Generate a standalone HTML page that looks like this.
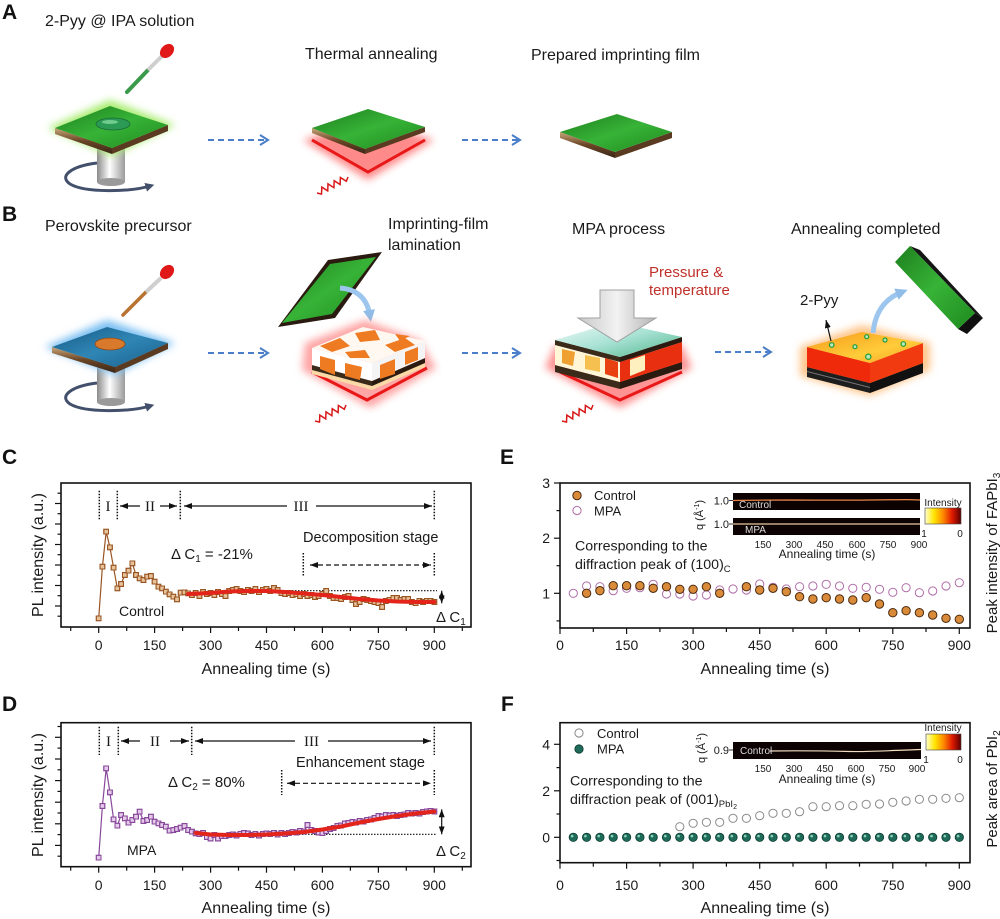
<!DOCTYPE html>
<html><head><meta charset="utf-8">
<style>
html,body{margin:0;padding:0;background:#fff;}
svg{display:block;}
text{font-family:"Liberation Sans",Arial,sans-serif;fill:#1a1a1a;}
.pl{font-weight:bold;font-size:21px;fill:#111;}
.h{font-size:16px;}
.tk{font-size:14px;}
.ti{font-size:16px;}
.rm{font-family:"Liberation Serif",serif;font-size:15px;}
.sm{font-size:10px;}
</style></head><body>
<svg width="1000" height="919" viewBox="0 0 1000 919" xmlns="http://www.w3.org/2000/svg">
<defs>
<filter id="blur" x="-30%" y="-30%" width="160%" height="160%"><feGaussianBlur stdDeviation="4"/></filter>
<filter id="blur2" x="-30%" y="-30%" width="160%" height="160%"><feGaussianBlur stdDeviation="2.5"/></filter>
<linearGradient id="gTop" x1="0" y1="0" x2="1" y2="1"><stop offset="0" stop-color="#1d7f1d"/><stop offset="0.5" stop-color="#37b337"/><stop offset="1" stop-color="#1e8a1e"/></linearGradient>
<linearGradient id="edge" x1="0" y1="0" x2="0" y2="1"><stop offset="0" stop-color="#c9a77a"/><stop offset="0.5" stop-color="#6a4526"/><stop offset="1" stop-color="#3a2616"/></linearGradient>
<linearGradient id="cyl" x1="0" y1="0" x2="1" y2="0"><stop offset="0" stop-color="#8a8a8a"/><stop offset="0.45" stop-color="#ffffff"/><stop offset="1" stop-color="#9a9a9a"/></linearGradient>
<linearGradient id="bTop" x1="0" y1="0" x2="1" y2="1"><stop offset="0" stop-color="#175a86"/><stop offset="0.5" stop-color="#2f86b5"/><stop offset="1" stop-color="#1a5f8c"/></linearGradient>
<linearGradient id="mTop" x1="0" y1="0" x2="1" y2="1"><stop offset="0" stop-color="#f2fbfb"/><stop offset="0.5" stop-color="#a8e2d4"/><stop offset="1" stop-color="#4fb48a"/></linearGradient>
<linearGradient id="oTop" x1="0" y1="0" x2="1" y2="1"><stop offset="0" stop-color="#f59a1a"/><stop offset="0.6" stop-color="#ffcc3a"/><stop offset="1" stop-color="#f4a020"/></linearGradient>
<linearGradient id="arr" x1="0" y1="0" x2="1" y2="0"><stop offset="0" stop-color="#c8c8c8"/><stop offset="0.5" stop-color="#f2f2f2"/><stop offset="1" stop-color="#b4b4b4"/></linearGradient>
<linearGradient id="cbar" x1="0" y1="0" x2="1" y2="0"><stop offset="0" stop-color="#ffffd0"/><stop offset="0.25" stop-color="#ffe600"/><stop offset="0.5" stop-color="#ff8a00"/><stop offset="0.75" stop-color="#e01a00"/><stop offset="1" stop-color="#5a0000"/></linearGradient>
<marker id="ah" viewBox="0 0 8 6" refX="8" refY="3" markerWidth="8" markerHeight="6" markerUnits="userSpaceOnUse" orient="auto-start-reverse"><path d="M0,0 L8,3 L0,6 z" fill="#111"/></marker>
<marker id="ahb" viewBox="0 0 10 10" refX="5" refY="5" markerWidth="12" markerHeight="12" markerUnits="userSpaceOnUse" orient="auto"><path d="M0,0 L10,5 L0,10 z" fill="#8fbde8"/></marker>
<marker id="ahs" viewBox="0 0 10 10" refX="5" refY="5" markerWidth="9" markerHeight="9" markerUnits="userSpaceOnUse" orient="auto"><path d="M0,0 L10,5 L0,10 z" fill="#43506c"/></marker>
<marker id="sqC" viewBox="0 0 6 6" refX="3" refY="3" markerWidth="6" markerHeight="6" markerUnits="userSpaceOnUse"><rect x="0.6" y="0.6" width="4.8" height="4.8" fill="#e7c39c" stroke="#9a5522" stroke-width="1.2"/></marker>
<marker id="sqD" viewBox="0 0 6 6" refX="3" refY="3" markerWidth="6" markerHeight="6" markerUnits="userSpaceOnUse"><rect x="0.6" y="0.6" width="4.8" height="4.8" fill="#e4cbe9" stroke="#87479a" stroke-width="1.2"/></marker>
<marker id="cE" viewBox="0 0 10 10" refX="5" refY="5" markerWidth="10" markerHeight="10" markerUnits="userSpaceOnUse"><circle cx="5" cy="5" r="4.2" fill="#d98b3a" stroke="#4a2a10" stroke-width="1"/></marker>
<marker id="mE" viewBox="0 0 10 10" refX="5" refY="5" markerWidth="10" markerHeight="10" markerUnits="userSpaceOnUse"><circle cx="5" cy="5" r="4.1" fill="#fff" stroke="#b06ea8" stroke-width="1"/></marker>
<marker id="cF" viewBox="0 0 10 10" refX="5" refY="5" markerWidth="10" markerHeight="10" markerUnits="userSpaceOnUse"><circle cx="5" cy="5" r="4.1" fill="#fff" stroke="#8a8a8a" stroke-width="1"/></marker>
<marker id="mF" viewBox="0 0 10 10" refX="5" refY="5" markerWidth="10" markerHeight="10" markerUnits="userSpaceOnUse"><circle cx="5" cy="5" r="4.2" fill="#1d6b58" stroke="#0d3a30" stroke-width="0.8"/><circle cx="3.8" cy="3.8" r="1.3" fill="#8fd0bd"/></marker>
</defs>

<!-- ============ PANEL A ============ -->
<text class="pl" x="2" y="19">A</text>
<text class="h" x="45" y="26">2-Pyy @ IPA solution</text>
<text class="h" x="305" y="59">Thermal annealing</text>
<text class="h" x="531" y="60">Prepared imprinting film</text>

<!-- A1 spin coater -->
<path d="M97,163 C72,166 58,176 70,184 C85,193 130,192 150,186" fill="none" stroke="#43506c" stroke-width="3" marker-end="url(#ahs)"/>
<rect x="97" y="140" width="28" height="42" fill="url(#cyl)"/>
<ellipse cx="111" cy="182" rx="14" ry="4" fill="#9a9a9a"/>
<polygon points="48,128 110,100 175,125 112,156" fill="#a8ec70" filter="url(#blur)"/>
<polygon points="55,128 112,148 112,154 55,134" fill="url(#edge)"/>
<polygon points="112,148 168,125 168,131 112,154" fill="#5a3a20"/>
<polygon points="55,128 110,106 168,125 112,148" fill="url(#gTop)"/>
<ellipse cx="113" cy="124" rx="17" ry="6" fill="#2a9a55" stroke="#1a6a35" stroke-width="0.8"/>
<ellipse cx="110" cy="122" rx="8" ry="2" fill="#8fe0a8" opacity="0.7"/>
<line x1="127" y1="92" x2="148" y2="70" stroke="#3a9a4a" stroke-width="4" stroke-linecap="round"/>
<line x1="148" y1="70" x2="162" y2="56" stroke="#cfcfcf" stroke-width="4"/>
<ellipse cx="167" cy="51" rx="6" ry="8" transform="rotate(45 167 51)" fill="#e01818"/>

<!-- arrow A1 -->
<line x1="208" y1="140" x2="268" y2="140" stroke="#bcdcf6" stroke-width="9" filter="url(#blur2)"/>
<line x1="208" y1="140" x2="266" y2="140" stroke="#4a7ec8" stroke-width="2" stroke-dasharray="6,4"/>
<polyline points="260,135 268,140 260,145" fill="none" stroke="#4a7ec8" stroke-width="2"/>

<!-- A2 thermal annealing -->
<polygon points="303,140 368,180 434,140 368,120" fill="#ff5a5a" opacity="0.7" filter="url(#blur)"/>
<polyline points="312,140 368,172 425,140" fill="none" stroke="#e81818" stroke-width="3"/>
<polygon points="312,128 365,149 365,154 312,133" fill="url(#edge)"/>
<polygon points="365,149 425,127 425,132 365,154" fill="#5a3a20"/>
<polygon points="312,128 368,109 425,127 365,149" fill="url(#gTop)"/>
<polyline transform="translate(317,193)" points="0,0 4.5,1.1 4.8,-5.9 10.7,-2.1 11,-9.1 16.9,-5.3 17.2,-12.3 23.1,-8.5 23.4,-15.5 29.3,-11.7 31,-16" fill="none" stroke="#d81818" stroke-width="1.5"/>

<!-- arrow A2 -->
<line x1="462" y1="140" x2="520" y2="140" stroke="#bcdcf6" stroke-width="9" filter="url(#blur2)"/>
<line x1="462" y1="140" x2="518" y2="140" stroke="#4a7ec8" stroke-width="2" stroke-dasharray="6,4"/>
<polyline points="512,135 520,140 512,145" fill="none" stroke="#4a7ec8" stroke-width="2"/>

<!-- A3 prepared film -->
<polygon points="560,132 615,152 615,158 560,138" fill="url(#edge)"/>
<polygon points="615,152 672,132 672,138 615,158" fill="#5a3a20"/>
<polygon points="560,132 617,114 672,132 615,152" fill="url(#gTop)"/>

<!-- ============ PANEL B ============ -->
<text class="pl" x="2" y="221">B</text>
<text class="h" x="45" y="231">Perovskite precursor</text>
<text class="h" x="388" y="229">Imprinting-film</text>
<text class="h" x="388" y="250">lamination</text>
<text class="h" x="572" y="234">MPA process</text>
<text class="h" x="791" y="234">Annealing completed</text>
<text x="649" y="277" font-size="15" style="fill:#c0302a">Pressure &amp;</text>
<text x="649" y="295" font-size="15" style="fill:#c0302a">temperature</text>
<text x="800" y="305" font-size="15">2-Pyy</text>

<!-- B1 -->
<path d="M97,383 C72,386 58,396 70,404 C85,413 130,412 150,406" fill="none" stroke="#43506c" stroke-width="3" marker-end="url(#ahs)"/>
<rect x="97" y="362" width="28" height="40" fill="url(#cyl)"/>
<ellipse cx="111" cy="402" rx="14" ry="4" fill="#9a9a9a"/>
<polygon points="45,347 107,320 175,343 115,375" fill="#7cc0f2" filter="url(#blur)"/>
<polygon points="52,347 115,367 115,373 52,353" fill="url(#edge)"/>
<polygon points="115,367 168,343 168,349 115,373" fill="#5a3a20"/>
<polygon points="52,347 107,327 168,343 115,367" fill="url(#bTop)"/>
<ellipse cx="110" cy="344" rx="15" ry="6" fill="#d9792c" stroke="#8a4a1a" stroke-width="0.8"/>
<line x1="123" y1="315" x2="146" y2="292" stroke="#b87333" stroke-width="3.5" stroke-linecap="round"/>
<line x1="146" y1="292" x2="161" y2="278" stroke="#cfcfcf" stroke-width="4"/>
<ellipse cx="167" cy="272" rx="6" ry="8" transform="rotate(45 167 272)" fill="#e01818"/>

<!-- arrow B1 -->
<line x1="208" y1="353" x2="268" y2="353" stroke="#bcdcf6" stroke-width="9" filter="url(#blur2)"/>
<line x1="208" y1="353" x2="266" y2="353" stroke="#4a7ec8" stroke-width="2" stroke-dasharray="6,4"/>
<polyline points="260,348 268,353 260,358" fill="none" stroke="#4a7ec8" stroke-width="2"/>

<!-- B2 lamination -->
<polygon points="278,327 328,260 382,252 335,318" fill="#2a1a10"/>
<polygon points="282,323 330,264 376,257 332,314" fill="url(#gTop)"/>
<path d="M340,288 Q366,290 370,316" fill="none" stroke="#9cc6ee" stroke-width="5" marker-end="url(#ahb)"/>
<polygon points="302,370 370,408 436,368 420,340 365,320 305,343" fill="#ff6a6a" opacity="0.6" filter="url(#blur)"/>
<polyline points="312,372 367,400 427,368" fill="none" stroke="#e81818" stroke-width="3"/>
<polygon points="312,369 372,385 372,390 312,374" fill="#fbd9a6"/>
<polygon points="372,385 425,362 425,367 372,390" fill="#fbd9a6"/>
<polygon points="312,365 372,381 372,386 312,370" fill="#3a2a1a"/>
<polygon points="372,381 425,358 425,363 372,386" fill="#2a1a10"/>
<polygon points="312,348 372,363 372,381 312,365" fill="#fff"/>
<polygon points="372,363 425,341 425,358 372,381" fill="#f4f4f4"/>
<polygon points="312,348 363,327 425,341 372,363" fill="#fff8f0"/>
<polygon points="320,346 340,338 350,346 332,352" fill="#ee7a22"/>
<polygon points="355,333 375,330 380,340 360,342" fill="#ee7a22"/>
<polygon points="385,345 405,338 415,345 395,352" fill="#ee7a22"/>
<polygon points="345,352 365,350 370,358 350,358" fill="#ee7a22"/>
<polygon points="395,334 410,336 400,341" fill="#ee7a22"/>
<polygon points="320,356 335,360 335,375 320,369" fill="#ee7a22"/>
<polygon points="345,363 362,367 360,380 345,376" fill="#ee7a22"/>
<polygon points="380,365 395,359 395,374 380,379" fill="#ee7a22"/>
<polygon points="405,352 418,347 418,360 405,365" fill="#ee7a22"/>
<polyline transform="translate(315,421)" points="0,0 4.5,1.1 4.8,-5.9 10.7,-2.1 11,-9.1 16.9,-5.3 17.2,-12.3 23.1,-8.5 23.4,-15.5 29.3,-11.7 31,-16" fill="none" stroke="#d81818" stroke-width="1.5"/>

<!-- arrow B2 -->
<line x1="462" y1="353" x2="520" y2="353" stroke="#bcdcf6" stroke-width="9" filter="url(#blur2)"/>
<line x1="462" y1="353" x2="518" y2="353" stroke="#4a7ec8" stroke-width="2" stroke-dasharray="6,4"/>
<polyline points="512,348 520,353 512,358" fill="none" stroke="#4a7ec8" stroke-width="2"/>

<!-- B3 MPA -->
<polygon points="545,368 620,408 692,368 682,345 620,360 555,345" fill="#ff5a5a" opacity="0.65" filter="url(#blur)"/>
<polyline points="560,372 620,400 682,372" fill="none" stroke="#e81818" stroke-width="3"/>
<polygon points="555,365 620,382 620,389 555,372" fill="#3a2a1a"/>
<polygon points="620,382 682,362 682,369 620,389" fill="#2a1a10"/>
<polygon points="555,345 620,362 620,382 555,365" fill="#fff6d8"/>
<polygon points="562,349 575,352 573,366 562,363" fill="#f0a030"/>
<polygon points="585,355 600,358 600,372 585,369" fill="#f5c050"/>
<polygon points="605,358 618,362 618,378 605,374" fill="#e84010"/>
<polygon points="620,362 682,342 682,362 620,382" fill="#e83010"/>
<polygon points="630,360 645,355 645,370 630,376" fill="#fff0c0"/>
<polygon points="555,340 620,357 620,362 555,345" fill="#3a2a1a"/>
<polygon points="620,357 682,337 682,342 620,362" fill="#2a1a10"/>
<polygon points="555,340 615,322 682,337 620,357" fill="url(#mTop)"/>
<polygon points="600,290 634,290 634,318 656,318 617,342 578,318 600,318" fill="url(#arr)" stroke="#a0a0a0" stroke-width="1"/>
<polyline transform="translate(562,421)" points="0,0 4.5,1.1 4.8,-5.9 10.7,-2.1 11,-9.1 16.9,-5.3 17.2,-12.3 23.1,-8.5 23.4,-15.5 29.3,-11.7 31,-16" fill="none" stroke="#d81818" stroke-width="1.5"/>

<!-- arrow B3 -->
<line x1="715" y1="352" x2="771" y2="352" stroke="#bcdcf6" stroke-width="9" filter="url(#blur2)"/>
<line x1="715" y1="352" x2="769" y2="352" stroke="#4a7ec8" stroke-width="2" stroke-dasharray="6,4"/>
<polyline points="763,347 771,352 763,357" fill="none" stroke="#4a7ec8" stroke-width="2"/>

<!-- B4 completed -->
<polygon points="800,347 862,325 930,343 930,370 870,396 800,376" fill="#ffa040" opacity="0.6" filter="url(#blur)"/>
<polygon points="807,367 870,383 870,393 807,377" fill="#1e1e1e"/>
<polygon points="870,383 923,363 923,373 870,393" fill="#111"/>
<polygon points="807,371 870,387 870,388 807,372" fill="#777"/>
<polygon points="807,347 870,363 870,383 807,367" fill="#ee2a0a"/>
<polygon points="870,363 923,343 923,363 870,383" fill="#f23a10"/>
<polygon points="807,347 862,332 923,343 870,363" fill="url(#oTop)"/>
<g fill="#b6eab6" stroke="#1f9a3a" stroke-width="1.2">
<circle cx="831.7" cy="345" r="2.3"/><circle cx="855" cy="346.7" r="2"/><circle cx="866.7" cy="336.7" r="2"/><circle cx="885" cy="340" r="2"/><circle cx="903.3" cy="344" r="2.3"/><circle cx="868.3" cy="356.7" r="2.6"/>
</g>
<line x1="831" y1="341" x2="826" y2="320" stroke="#111" stroke-width="1.2" marker-end="url(#ah)"/>
<path d="M873,333 Q876,302 902,292" fill="none" stroke="#9cc6ee" stroke-width="5" marker-end="url(#ahb)"/>
<polygon points="910,246 920,250 983,318 975,313" fill="#151515"/>
<polygon points="958,329 975,313 983,318 967,334" fill="#101010"/>
<polygon points="895,262 910,246 975,313 958,329" fill="url(#gTop)"/>

<!-- ============ PANEL C ============ -->
<text class="pl" x="2" y="464">C</text>
<g stroke="#111" stroke-width="1.2">
<line x1="55" y1="503.5" x2="61" y2="503.5"/><line x1="55" y1="524" x2="61" y2="524"/><line x1="55" y1="544.5" x2="61" y2="544.5"/><line x1="55" y1="565" x2="61" y2="565"/><line x1="55" y1="585.5" x2="61" y2="585.5"/><line x1="55" y1="606" x2="61" y2="606"/>
<line x1="57.5" y1="493.2" x2="61" y2="493.2"/><line x1="57.5" y1="513.7" x2="61" y2="513.7"/><line x1="57.5" y1="534.2" x2="61" y2="534.2"/><line x1="57.5" y1="554.7" x2="61" y2="554.7"/><line x1="57.5" y1="575.2" x2="61" y2="575.2"/><line x1="57.5" y1="595.7" x2="61" y2="595.7"/><line x1="57.5" y1="616.2" x2="61" y2="616.2"/>
<line x1="98.7" y1="627" x2="98.7" y2="633"/><line x1="154.6" y1="627" x2="154.6" y2="633"/><line x1="210.6" y1="627" x2="210.6" y2="633"/><line x1="266.5" y1="627" x2="266.5" y2="633"/><line x1="322.4" y1="627" x2="322.4" y2="633"/><line x1="378.4" y1="627" x2="378.4" y2="633"/><line x1="434.3" y1="627" x2="434.3" y2="633"/>
<line x1="70.7" y1="627" x2="70.7" y2="631"/><line x1="126.7" y1="627" x2="126.7" y2="631"/><line x1="182.6" y1="627" x2="182.6" y2="631"/><line x1="238.5" y1="627" x2="238.5" y2="631"/><line x1="294.5" y1="627" x2="294.5" y2="631"/><line x1="350.4" y1="627" x2="350.4" y2="631"/><line x1="406.3" y1="627" x2="406.3" y2="631"/><line x1="462.3" y1="627" x2="462.3" y2="631"/>
</g>
<g class="tk" text-anchor="middle">
<text x="98.7" y="650">0</text><text x="154.6" y="650">150</text><text x="210.6" y="650">300</text><text x="266.5" y="650">450</text><text x="322.4" y="650">600</text><text x="378.4" y="650">750</text><text x="434.3" y="650">900</text>
</g>
<text class="ti" x="266" y="674" text-anchor="middle">Annealing time (s)</text>
<text class="ti" transform="translate(43,555) rotate(-90)" text-anchor="middle">PL intensity (a.u.)</text>
<!-- stage markers -->
<g stroke="#111" stroke-width="1.5" stroke-dasharray="1.5,1.5">
<line x1="99.3" y1="490.7" x2="99.3" y2="520"/><line x1="117.3" y1="490.7" x2="117.3" y2="520"/><line x1="180.3" y1="490.7" x2="180.3" y2="520"/><line x1="434.3" y1="490.7" x2="434.3" y2="520"/>
<line x1="303.3" y1="553" x2="303.3" y2="577"/><line x1="434.3" y1="553" x2="434.3" y2="577"/>
<line x1="283" y1="590.7" x2="437" y2="590.7" stroke-width="1.2"/>
</g>
<g stroke="#111" stroke-width="1.2">
<line x1="140" y1="506" x2="120" y2="506" marker-end="url(#ah)"/><line x1="160" y1="506" x2="177" y2="506" marker-end="url(#ah)"/>
<line x1="287" y1="506" x2="184" y2="506" marker-end="url(#ah)"/><line x1="316" y1="506" x2="432" y2="506" marker-end="url(#ah)"/>
<line x1="310" y1="565" x2="431" y2="565" stroke-dasharray="5,3" marker-start="url(#ah)" marker-end="url(#ah)"/>
<line x1="441.7" y1="590.7" x2="441.7" y2="603.3" marker-start="url(#ah)" marker-end="url(#ah)"/>
</g>
<text class="rm" x="108" y="511" text-anchor="middle">I</text>
<text class="rm" x="150" y="511" text-anchor="middle">II</text>
<text class="rm" x="301" y="511" text-anchor="middle">III</text>
<text x="303" y="542" font-size="14.5">Decomposition stage</text>
<text x="171" y="559" font-size="15">Δ C<tspan font-size="10" dy="3">1</tspan><tspan dy="-3"> = -21%</tspan></text>
<text x="119" y="616" font-size="14">Control</text>
<text x="436" y="622" font-size="15">Δ C<tspan font-size="10" dy="3">1</tspan></text>
<!-- data C -->
<polyline points="98.7,618.3 102.4,566.7 106.2,531.7 109.9,547.3 113.6,567.7 117.3,588.3 121.1,584 124.8,575 128.5,570.7 132.3,563.3 136,575 139.7,578.3 143.4,580 147.2,576.7 150.9,576 154.6,581.7 158.4,586.7 162.1,588.3 165.8,591.7 169.6,594.3 173.3,596.7 177,599.3 180.7,592.7 184.5,592.3 188.2,593.3" fill="none" stroke="#9a5522" stroke-width="1.2" marker-start="url(#sqC)" marker-mid="url(#sqC)" marker-end="url(#sqC)"/>
<polyline points="191.9,595 195.7,593 199.4,596 203.1,592 206.8,594 210.6,593 214.3,595 218,592 221.8,594 225.5,596 229.2,591 232.9,590 236.7,589 240.4,591 244.1,592 247.9,590 251.6,591 255.3,589 259,592 262.8,590 266.5,589 270.2,591 274,588 277.7,590 281.4,593 285.2,594 288.9,593 292.6,595 296.3,594 300.1,596 303.8,594 307.5,596 311.3,595 315,597 318.7,596 322.4,594 326.2,591 329.9,596 333.6,598 337.4,598 341.1,599 344.8,597 348.5,596 352.3,600 356,604 359.7,602 363.5,599 367.2,600 370.9,601 374.6,602 378.4,603 382.1,607 385.8,601 389.6,600 393.3,598 397,598 400.7,600 404.5,599 408.2,599 411.9,602 415.7,603 419.4,601 423.1,602 426.8,601 430.6,601 434.3,602" fill="none" stroke="#9a5522" stroke-width="1" marker-start="url(#sqC)" marker-mid="url(#sqC)" marker-end="url(#sqC)"/>
<polyline points="188.2,594 210.6,593 229.2,591.5 247.9,591 266.5,591 285.2,592 303.8,593.5 322.4,595 341.1,597 359.7,599 378.4,600.5 397,601.5 415.7,602 434.3,602" fill="none" stroke="#e3241b" stroke-width="4" stroke-linejoin="round" stroke-linecap="round"/>
<rect x="61" y="483" width="410" height="144" fill="none" stroke="#111" stroke-width="1.6"/>

<!-- ============ PANEL D ============ -->
<text class="pl" x="2" y="711">D</text>
<g stroke="#111" stroke-width="1.2">
<line x1="55" y1="737.3" x2="61" y2="737.3"/><line x1="55" y1="759" x2="61" y2="759"/><line x1="55" y1="780.6" x2="61" y2="780.6"/><line x1="55" y1="802.2" x2="61" y2="802.2"/><line x1="55" y1="823.8" x2="61" y2="823.8"/><line x1="55" y1="845.4" x2="61" y2="845.4"/>
<line x1="57.5" y1="726.5" x2="61" y2="726.5"/><line x1="57.5" y1="748.1" x2="61" y2="748.1"/><line x1="57.5" y1="769.8" x2="61" y2="769.8"/><line x1="57.5" y1="791.4" x2="61" y2="791.4"/><line x1="57.5" y1="813" x2="61" y2="813"/><line x1="57.5" y1="834.6" x2="61" y2="834.6"/><line x1="57.5" y1="856.2" x2="61" y2="856.2"/>
<line x1="98.7" y1="866.7" x2="98.7" y2="872.7"/><line x1="154.6" y1="866.7" x2="154.6" y2="872.7"/><line x1="210.6" y1="866.7" x2="210.6" y2="872.7"/><line x1="266.5" y1="866.7" x2="266.5" y2="872.7"/><line x1="322.4" y1="866.7" x2="322.4" y2="872.7"/><line x1="378.4" y1="866.7" x2="378.4" y2="872.7"/><line x1="434.3" y1="866.7" x2="434.3" y2="872.7"/>
<line x1="70.7" y1="866.7" x2="70.7" y2="870.7"/><line x1="126.7" y1="866.7" x2="126.7" y2="870.7"/><line x1="182.6" y1="866.7" x2="182.6" y2="870.7"/><line x1="238.5" y1="866.7" x2="238.5" y2="870.7"/><line x1="294.5" y1="866.7" x2="294.5" y2="870.7"/><line x1="350.4" y1="866.7" x2="350.4" y2="870.7"/><line x1="406.3" y1="866.7" x2="406.3" y2="870.7"/><line x1="462.3" y1="866.7" x2="462.3" y2="870.7"/>
</g>
<g class="tk" text-anchor="middle">
<text x="98.7" y="890">0</text><text x="154.6" y="890">150</text><text x="210.6" y="890">300</text><text x="266.5" y="890">450</text><text x="322.4" y="890">600</text><text x="378.4" y="890">750</text><text x="434.3" y="890">900</text>
</g>
<text class="ti" x="266" y="913" text-anchor="middle">Annealing time (s)</text>
<text class="ti" transform="translate(43,795) rotate(-90)" text-anchor="middle">PL intensity (a.u.)</text>
<g stroke="#111" stroke-width="1.5" stroke-dasharray="1.5,1.5">
<line x1="99.3" y1="726.7" x2="99.3" y2="755"/><line x1="118.3" y1="726.7" x2="118.3" y2="755"/><line x1="191.7" y1="726.7" x2="191.7" y2="755"/><line x1="434.3" y1="726.7" x2="434.3" y2="755"/>
<line x1="281.7" y1="770" x2="281.7" y2="795"/><line x1="434.3" y1="770" x2="434.3" y2="795"/>
<line x1="293" y1="834.3" x2="437" y2="834.3" stroke-width="1.2"/>
</g>
<g stroke="#111" stroke-width="1.2">
<line x1="140" y1="741" x2="121" y2="741" marker-end="url(#ah)"/><line x1="170" y1="741" x2="189" y2="741" marker-end="url(#ah)"/>
<line x1="295" y1="741" x2="195" y2="741" marker-end="url(#ah)"/><line x1="328" y1="741" x2="431" y2="741" marker-end="url(#ah)"/>
<line x1="287" y1="783.3" x2="431" y2="783.3" stroke-dasharray="5,3" marker-start="url(#ah)" marker-end="url(#ah)"/>
<line x1="441.7" y1="809.3" x2="441.7" y2="834.3" marker-start="url(#ah)" marker-end="url(#ah)"/>
</g>
<text class="rm" x="108.5" y="746" text-anchor="middle">I</text>
<text class="rm" x="155" y="746" text-anchor="middle">II</text>
<text class="rm" x="311.5" y="746" text-anchor="middle">III</text>
<text x="296" y="767" font-size="14.5">Enhancement stage</text>
<text x="168" y="787" font-size="15">Δ C<tspan font-size="10" dy="3">2</tspan><tspan dy="-3"> = 80%</tspan></text>
<text x="127" y="855" font-size="14">MPA</text>
<text x="436" y="856" font-size="15">Δ C<tspan font-size="10" dy="3">2</tspan></text>
<polyline points="98.7,857.7 102.4,806 106.2,768.3 109.9,792.3 113.6,819.3 117.3,825.7 121.1,815 124.8,818.3 128.5,822.7 132.3,820 136,816.7 139.7,811.7 143.4,821 147.2,820 150.9,816.7 154.6,821.7 158.4,823.3 162.1,825 165.8,826.7 169.6,830.7 173.3,830 177,829 180.7,827.7 184.5,826 188.2,830 191.9,831.7 195.7,833.3" fill="none" stroke="#87479a" stroke-width="1.2" marker-start="url(#sqD)" marker-mid="url(#sqD)" marker-end="url(#sqD)"/>
<polyline points="199.4,834 203.1,833 206.8,837 210.6,838.5 214.3,835 218,838.5 221.8,836 225.5,836 229.2,835 232.9,834.5 236.7,835.5 240.4,834 244.1,833 247.9,833.5 251.6,835 255.3,834 259,835.5 262.8,834 266.5,833.5 270.2,834 274,833 277.7,834.5 281.4,833 285.2,834 288.9,833 292.6,832 296.3,832.5 300.1,831 303.8,831.5 307.5,825 311.3,830 315,831 318.7,832.5 322.4,833 326.2,831 329.9,829 333.6,828 337.4,826 341.1,825.5 344.8,823.5 348.5,823 352.3,822 356,822.5 359.7,821 363.5,821.5 367.2,820 370.9,819.5 374.6,818 378.4,816 382.1,816.5 385.8,815 389.6,815.5 393.3,815 397,816 400.7,815 404.5,814.5 408.2,813 411.9,813.5 415.7,813 419.4,813.5 423.1,812 426.8,811.5 430.6,811 434.3,811.5" fill="none" stroke="#87479a" stroke-width="1" marker-start="url(#sqD)" marker-mid="url(#sqD)" marker-end="url(#sqD)"/>
<polyline points="195.7,833 210.6,834.5 229.2,835 247.9,835 266.5,834.5 285.2,833.5 303.8,832 322.4,829.5 341.1,826.5 359.7,822.5 378.4,819 397,816 415.7,813.5 434.3,811.5" fill="none" stroke="#e3241b" stroke-width="4" stroke-linejoin="round" stroke-linecap="round"/>
<rect x="61" y="722.7" width="410" height="144" fill="none" stroke="#111" stroke-width="1.6"/>

<!-- ============ PANEL E ============ -->
<text class="pl" x="500" y="464">E</text>
<g stroke="#111" stroke-width="1.2">
<line x1="554" y1="483" x2="560" y2="483"/><line x1="554" y1="538.2" x2="560" y2="538.2"/><line x1="554" y1="593.3" x2="560" y2="593.3"/>
<line x1="556.5" y1="510.6" x2="560" y2="510.6"/><line x1="556.5" y1="565.7" x2="560" y2="565.7"/><line x1="556.5" y1="620.9" x2="560" y2="620.9"/>
<line x1="560" y1="628" x2="560" y2="634"/><line x1="626.6" y1="628" x2="626.6" y2="634"/><line x1="693.1" y1="628" x2="693.1" y2="634"/><line x1="759.7" y1="628" x2="759.7" y2="634"/><line x1="826.2" y1="628" x2="826.2" y2="634"/><line x1="892.8" y1="628" x2="892.8" y2="634"/><line x1="959.3" y1="628" x2="959.3" y2="634"/>
<line x1="593.3" y1="628" x2="593.3" y2="632"/><line x1="659.9" y1="628" x2="659.9" y2="632"/><line x1="726.4" y1="628" x2="726.4" y2="632"/><line x1="793" y1="628" x2="793" y2="632"/><line x1="859.5" y1="628" x2="859.5" y2="632"/><line x1="926" y1="628" x2="926" y2="632"/>
</g>
<g class="tk" text-anchor="end"><text x="550" y="488">3</text><text x="550" y="543">2</text><text x="550" y="598.5">1</text></g>
<g class="tk" text-anchor="middle">
<text x="560" y="650">0</text><text x="626.6" y="650">150</text><text x="693.1" y="650">300</text><text x="759.7" y="650">450</text><text x="826.2" y="650">600</text><text x="892.8" y="650">750</text><text x="959.3" y="650">900</text>
</g>
<text class="ti" x="765" y="674" text-anchor="middle">Annealing time (s)</text>
<text transform="translate(997,553) rotate(-90)" text-anchor="middle" font-size="15">Peak intensity of FAPbI<tspan font-size="10" dy="3">3</tspan></text>
<!-- legend E -->
<circle cx="577" cy="495.5" r="4.2" fill="#d98b3a" stroke="#4a2a10" stroke-width="1"/>
<text x="594" y="500" font-size="13">Control</text>
<circle cx="577" cy="510.5" r="4.1" fill="#fff" stroke="#b06ea8" stroke-width="1"/>
<text x="594" y="515.5" font-size="13">MPA</text>
<text x="575" y="550.5" font-size="14.2">Corresponding to the</text>
<text x="575" y="569" font-size="14.2">diffraction peak of (100)<tspan font-size="9.5" dy="3">C</tspan></text>
<!-- inset E -->
<rect x="733" y="493" width="187" height="17" fill="#0c0202"/>
<path d="M733,500.5 C780,499.5 830,500.5 870,500 S910,499.5 920,500" fill="none" stroke="#e8844a" stroke-width="1.3"/>
<text x="739" y="508" class="sm" style="fill:#ddd">Control</text>
<rect x="733" y="518" width="187" height="17" fill="#0c0202"/>
<line x1="733" y1="524" x2="920" y2="524" stroke="#e8c8a0" stroke-width="1.2"/>
<text x="745" y="533" class="sm" style="fill:#ddd">MPA</text>
<g stroke="#333" stroke-width="1"><line x1="729" y1="500.5" x2="733" y2="500.5"/><line x1="729" y1="524" x2="733" y2="524"/></g>
<g font-size="11" text-anchor="end"><text x="729" y="504.5">1.0</text><text x="729" y="528">1.0</text></g>
<text transform="translate(703,515) rotate(-90)" text-anchor="middle" font-size="11">q (Å<tspan font-size="7" dy="-4">-1</tspan><tspan dy="4">)</tspan></text>
<g class="sm" text-anchor="middle"><text x="763" y="548">150</text><text x="794" y="548">300</text><text x="825" y="548">450</text><text x="857" y="548">600</text><text x="888" y="548">750</text><text x="919" y="548">900</text></g>
<text x="827" y="558" text-anchor="middle" font-size="12">Annealing time (s)</text>
<rect x="925" y="508" width="36" height="16" fill="url(#cbar)" stroke="#444" stroke-width="0.6"/>
<text x="943" y="506" class="sm" text-anchor="middle">Intensity</text>
<text x="924" y="537" class="sm" text-anchor="middle">1</text>
<text x="960" y="537" class="sm" text-anchor="middle">0</text>
<!-- data E -->
<polyline points="573.3,593.3 586.6,586 599.9,586.7 613.2,590.7 626.6,588.3 639.9,587.7 653.2,584.3 666.5,594 679.8,594 693.1,596 706.4,595 719.7,590 733,589 746.4,590 759.7,584 773,587.3 786.3,589 799.6,586.7 812.9,586 826.2,584.3 839.5,586 852.8,588.3 866.2,587.3 879.5,589.3 892.8,592.3 906.1,587.7 919.4,592.7 932.7,591 946,586 959.3,582.7" fill="none" stroke="none" marker-start="url(#mE)" marker-mid="url(#mE)" marker-end="url(#mE)"/>
<polyline points="586.6,593.3 599.9,590.7 613.2,585.7 626.6,585.7 639.9,585.7 653.2,588.3 666.5,586.7 679.8,589.3 693.1,589.3 706.4,586.7 719.7,593.3 746.4,586.7 759.7,590 773,588.3 786.3,591.7 799.6,596.7 812.9,599 826.2,597.7 839.5,599 852.8,600 866.2,597.7 879.5,604 892.8,612.7 906.1,610.7 919.4,612.7 932.7,615 946,618.3 959.3,619.3" fill="none" stroke="none" marker-start="url(#cE)" marker-mid="url(#cE)" marker-end="url(#cE)"/>
<rect x="560" y="483" width="410" height="145" fill="none" stroke="#111" stroke-width="1.6"/>

<!-- ============ PANEL F ============ -->
<text class="pl" x="501" y="711">F</text>
<g stroke="#111" stroke-width="1.2">
<line x1="554" y1="744.3" x2="560" y2="744.3"/><line x1="554" y1="790.8" x2="560" y2="790.8"/><line x1="554" y1="837.3" x2="560" y2="837.3"/>
<line x1="556.5" y1="767.6" x2="560" y2="767.6"/><line x1="556.5" y1="814" x2="560" y2="814"/><line x1="556.5" y1="860.5" x2="560" y2="860.5"/>
<line x1="560" y1="862.7" x2="560" y2="868.7"/><line x1="626.6" y1="862.7" x2="626.6" y2="868.7"/><line x1="693.1" y1="862.7" x2="693.1" y2="868.7"/><line x1="759.7" y1="862.7" x2="759.7" y2="868.7"/><line x1="826.2" y1="862.7" x2="826.2" y2="868.7"/><line x1="892.8" y1="862.7" x2="892.8" y2="868.7"/><line x1="959.3" y1="862.7" x2="959.3" y2="868.7"/>
<line x1="593.3" y1="862.7" x2="593.3" y2="866.7"/><line x1="659.9" y1="862.7" x2="659.9" y2="866.7"/><line x1="726.4" y1="862.7" x2="726.4" y2="866.7"/><line x1="793" y1="862.7" x2="793" y2="866.7"/><line x1="859.5" y1="862.7" x2="859.5" y2="866.7"/><line x1="926" y1="862.7" x2="926" y2="866.7"/>
</g>
<g class="tk" text-anchor="end"><text x="550" y="749.3">4</text><text x="550" y="795.8">2</text><text x="550" y="842.3">0</text></g>
<g class="tk" text-anchor="middle">
<text x="560" y="890">0</text><text x="626.6" y="890">150</text><text x="693.1" y="890">300</text><text x="759.7" y="890">450</text><text x="826.2" y="890">600</text><text x="892.8" y="890">750</text><text x="959.3" y="890">900</text>
</g>
<text class="ti" x="765" y="913" text-anchor="middle">Annealing time (s)</text>
<text transform="translate(997,789) rotate(-90)" text-anchor="middle" font-size="15">Peak area of PbI<tspan font-size="10" dy="3">2</tspan></text>
<circle cx="579" cy="733" r="4.1" fill="#fff" stroke="#8a8a8a" stroke-width="1"/>
<text x="597" y="738" font-size="13">Control</text>
<circle cx="579" cy="749" r="4.2" fill="#1d6b58" stroke="#0d3a30" stroke-width="0.8"/>
<text x="597" y="753.5" font-size="13">MPA</text>
<text x="570" y="785.5" font-size="14.2">Corresponding to the</text>
<text x="570" y="804" font-size="14.2">diffraction peak of (001)<tspan font-size="9.5" dy="3">PbI</tspan><tspan font-size="7" dy="2">2</tspan></text>
<!-- inset F -->
<rect x="733" y="742" width="188" height="17" fill="#0c0202"/>
<path d="M770,751 C800,750.5 830,751 850,751.5 S900,750 921,749.5" fill="none" stroke="#f4dcc0" stroke-width="1.2"/>
<text x="740" y="754" class="sm" style="fill:#ddd">Control</text>
<line x1="729" y1="750" x2="733" y2="750" stroke="#333" stroke-width="1"/>
<text x="729" y="754" font-size="11" text-anchor="end">0.9</text>
<text transform="translate(705,748) rotate(-90)" text-anchor="middle" font-size="11">q (Å<tspan font-size="7" dy="-4">-1</tspan><tspan dy="4">)</tspan></text>
<g class="sm" text-anchor="middle"><text x="763" y="772">150</text><text x="794" y="772">300</text><text x="825" y="772">450</text><text x="856" y="772">600</text><text x="887" y="772">750</text><text x="917" y="772">900</text></g>
<text x="827" y="783" text-anchor="middle" font-size="12">Annealing time (s)</text>
<rect x="926" y="734" width="35" height="16" fill="url(#cbar)" stroke="#444" stroke-width="0.6"/>
<text x="943" y="731" class="sm" text-anchor="middle">Intensity</text>
<text x="926" y="763" class="sm" text-anchor="middle">1</text>
<text x="960" y="763" class="sm" text-anchor="middle">0</text>
<!-- data F -->
<polyline points="573.3,837.3 586.6,837.3 599.9,837.3 613.2,837.3 626.6,837.3 639.9,837.3 653.2,837.3 666.5,837.3 679.8,837.3 693.1,837.3 706.4,837.3 719.7,837.3 733,837.3 746.4,837.3 759.7,837.3 773,837.3 786.3,837.3 799.6,837.3 812.9,837.3 826.2,837.3 839.5,837.3 852.8,837.3 866.2,837.3 879.5,837.3 892.8,837.3 906.1,837.3 919.4,837.3 932.7,837.3 946,837.3 959.3,837.3" fill="none" stroke="none" marker-start="url(#mF)" marker-mid="url(#mF)" marker-end="url(#mF)"/>
<polyline points="679.8,826.7 693.1,823.3 706.4,822.3 719.7,822.3 733,818.3 746.4,818.3 759.7,815.7 773,813.3 786.3,813.3 799.6,811.7 812.9,806.7 826.2,806.7 839.5,805.7 852.8,805.7 866.2,804.3 879.5,804 892.8,802.3 906.1,801 919.4,799.3 932.7,799.3 946,798.3 959.3,797.7" fill="none" stroke="none" marker-start="url(#cF)" marker-mid="url(#cF)" marker-end="url(#cF)"/>
<rect x="560" y="722.7" width="410" height="140" fill="none" stroke="#111" stroke-width="1.6"/>
</svg>
</body></html>
